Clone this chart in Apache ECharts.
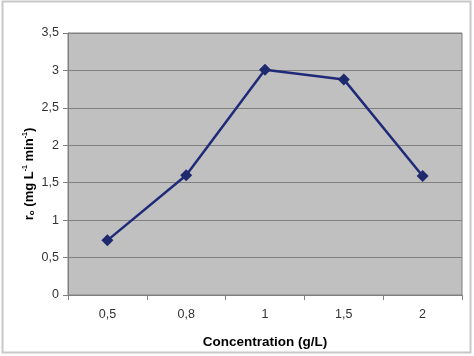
<!DOCTYPE html>
<html><head><meta charset="utf-8">
<script src="https://cdn.jsdelivr.net/npm/echarts@6/dist/echarts.min.js"></script>
<style>html,body{margin:0;padding:0;background:#fff}#c{width:474px;height:356px}</style>
</head><body><div id="c"></div>
<script>
var categories = ['0,5', '0,8', '1', '1,5', '2'];
var values = [0.73, 1.60, 3.01, 2.88, 1.59];
var yTicks = [0, 0.5, 1, 1.5, 2, 2.5, 3, 3.5];

var chart = echarts.init(document.getElementById('c'), null, {renderer: 'canvas'});
var font = '"Liberation Sans", Arial, sans-serif';
chart.setOption({
  animation: false,
  backgroundColor: '#fff',
  graphic: [{
    type: 'rect', shape: {x: 2.5, y: 1.5, width: 468, height: 351},
    style: {fill: 'none', stroke: '#c8c8c8', lineWidth: 2}, z: -1
  }],
  grid: {left: 68, right: 12, top: 33, bottom: 61, show: true, backgroundColor: '#c0c0c0', borderColor: '#808080', borderWidth: 1},
  xAxis: {
    type: 'category', data: categories, boundaryGap: true,
    axisLine: {lineStyle: {color: '#808080', width: 1}},
    axisTick: {show: true, inside: false, length: 5, lineStyle: {color: '#808080'}},
    axisLabel: {color: '#333', fontFamily: font, fontSize: 12.5, margin: 13},
    name: 'Concentration (g/L)', nameLocation: 'middle', nameGap: 40, nameMoveOverlap: false,
    nameTextStyle: {fontFamily: font, fontSize: 13.5, fontWeight: 'bold', color: '#000'}
  },
  yAxis: {
    type: 'value', min: 0, max: 3.5, interval: 0.5,
    axisLine: {show: true, lineStyle: {color: '#808080'}},
    axisTick: {show: true, length: 5, lineStyle: {color: '#808080'}},
    axisLabel: {color: '#333', fontFamily: font, fontSize: 12.5, margin: 9,
      formatter: function (v) { return String(v).replace('.', ','); }},
    splitLine: {show: true, lineStyle: {color: '#808080', width: 1}},
    name: '{r|r}{s|o}{r| (mg L}{p|-1}{r| min}{p|-1}{r|)}', nameLocation: 'middle', nameGap: 32, nameMoveOverlap: false,
    nameTextStyle: {
      padding: [0, 20, 0, 0],
      rich: {
        r: {fontFamily: font, fontSize: 13, fontWeight: 'bold', color: '#000'},
        s: {fontFamily: font, fontSize: 8, fontWeight: 'bold', color: '#000', verticalAlign: 'bottom', padding: [6, 0, 0, 0]},
        p: {fontFamily: font, fontSize: 7, fontWeight: 'bold', color: '#000', verticalAlign: 'top', padding: [0, 0, 6, 0]}
      }
    }
  },
  series: [{
    type: 'line', data: values,
    symbol: 'diamond', symbolSize: 12,
    lineStyle: {color: '#1f2a78', width: 2.5},
    itemStyle: {color: '#1f2a6e'}
  }]
});
</script></body></html>
